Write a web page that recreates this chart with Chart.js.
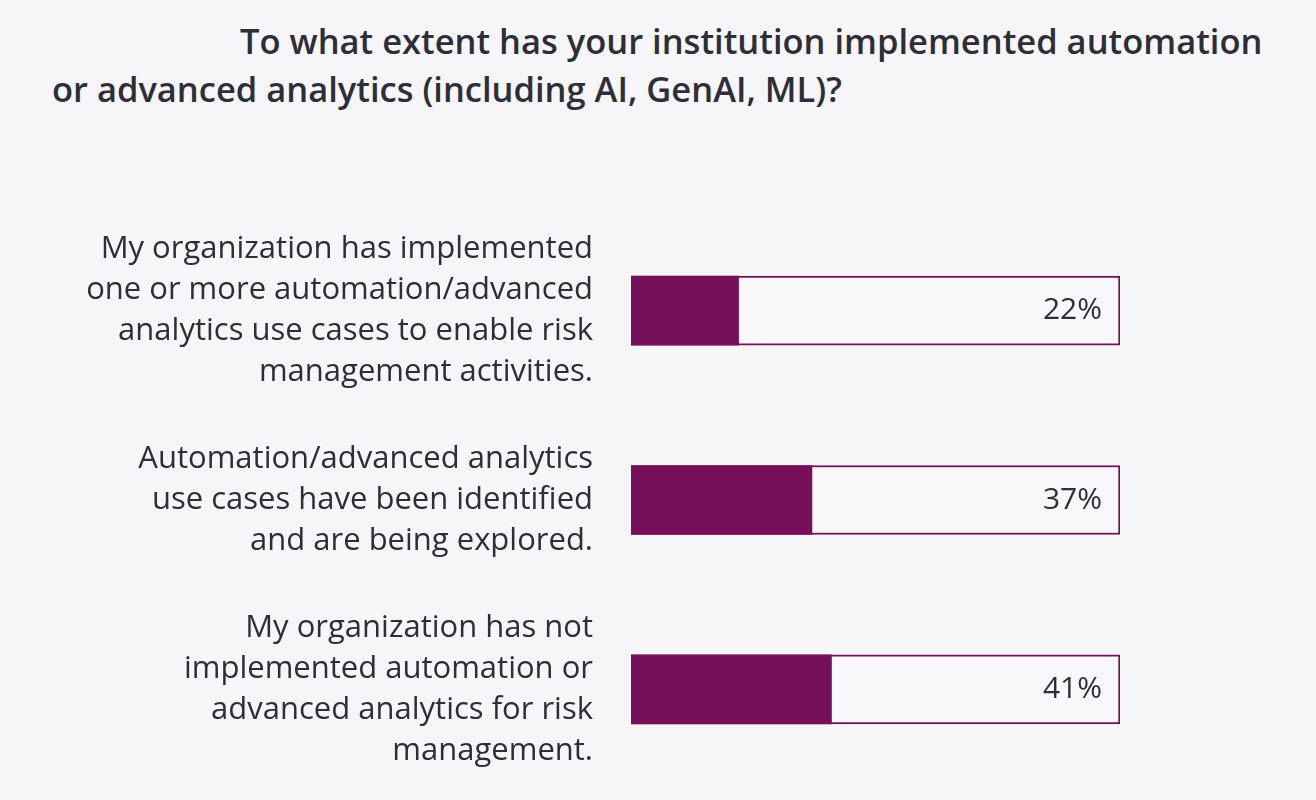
<!DOCTYPE html>
<html>
<head>
<meta charset="utf-8">
<script src="https://cdn.jsdelivr.net/npm/chart.js@4"></script>
<style>
  html, body { margin: 0; padding: 0; background: #f6f5f8; }
  #wrap { position: relative; width: 1316px; height: 800px; }
  .title {
    position: absolute; margin: 0;
    font-family: "Open Sans", sans-serif; font-weight: 600;
    font-size: 34.5px; color: #2e2e38; white-space: nowrap;
  }
  canvas { position: absolute; left: 0; top: 0; }
</style>
</head>
<body>
<div id="wrap">
  <div class="title" style="left:240px; top:17px;">To what extent has your institution implemented automation</div>
  <div class="title" style="left:52px; top:65px;">or advanced analytics (including AI, GenAI, ML)?</div>
  <canvas id="extentChart" width="1316" height="800"></canvas>
</div>
<script>
const categories = [
    ['My organization has implemented', 'one or more automation/advanced', 'analytics use cases to enable risk', 'management activities.'],
    ['Automation/advanced analytics', 'use cases have been identified', 'and are being explored.'],
    ['My organization has not', 'implemented automation or', 'advanced analytics for risk', 'management.']
];
const shares = [22, 37, 41];
const fullTrack = [100, 100, 100];

const purple = '#76105a';
const ink = '#2e2e38';
const labelFont = { family: '"Open Sans", sans-serif', size: 31, lineHeight: 1.32 };

// percentage text inside the right end of each track
const valueLabels = {
    id: 'valueLabels',
    afterDatasetsDraw(chart) {
        const { ctx } = chart;
        const track = chart.getDatasetMeta(1);
        ctx.save();
        ctx.font = '30px "Open Sans", sans-serif';
        ctx.fillStyle = ink;
        ctx.textAlign = 'right';
        ctx.textBaseline = 'middle';
        track.data.forEach((bar, i) => {
            ctx.fillText(shares[i] + '%', bar.x - 18, bar.y);
        });
        ctx.restore();
    }
};

new Chart(document.getElementById('extentChart').getContext('2d'), {
    type: 'bar',
    data: {
        labels: categories,
        datasets: [{
            label: 'Share',
            data: shares,
            backgroundColor: purple,
            borderWidth: 0,
            grouped: false,
            order: 1,
            barThickness: 69
        }, {
            label: 'Track',
            data: fullTrack,
            backgroundColor: '#f8f7fa',
            borderColor: purple,
            borderWidth: 2,
            grouped: false,
            order: 2,
            barThickness: 69
        }]
    },
    options: {
        indexAxis: 'y',
        responsive: false,
        animation: false,
        layout: {
            padding: { top: 216, bottom: 16, left: 0, right: 196 }
        },
        plugins: {
            legend: { display: false },
            tooltip: { enabled: false }
        },
        scales: {
            x: {
                display: false,
                min: 0,
                max: 100
            },
            y: {
                grid: { display: false },
                border: { display: false },
                afterFit(scale) {
                    scale.width = 631;
                    scale.paddingTop = 0;
                    scale.paddingBottom = 0;
                },
                ticks: {
                    padding: 30,
                    color: ink,
                    font: labelFont
                }
            }
        }
    },
    plugins: [valueLabels]
});
</script>
</body>
</html>
